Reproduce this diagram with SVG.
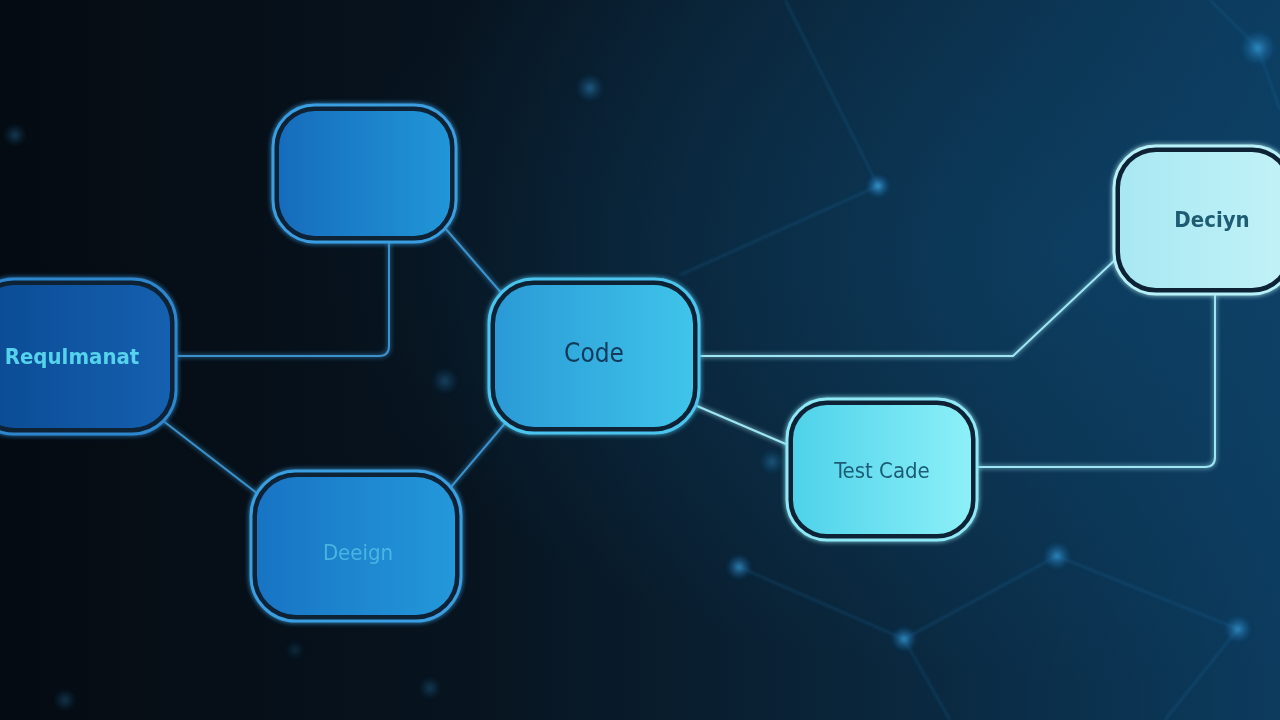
<svg xmlns="http://www.w3.org/2000/svg" width="1280" height="720" viewBox="0 0 1280 720">
<defs>
<linearGradient id="bg" x1="0" y1="0" x2="1" y2="0">
<stop offset="0" stop-color="#050b12"/>
<stop offset="0.35" stop-color="#07131e"/>
<stop offset="0.65" stop-color="#0a2438"/>
<stop offset="1" stop-color="#0c3b5e"/>
</linearGradient>
<radialGradient id="bgGlow" cx="0.85" cy="0.35" r="0.6">
<stop offset="0" stop-color="#0e4870" stop-opacity="0.55"/>
<stop offset="1" stop-color="#0e4870" stop-opacity="0"/>
</radialGradient>
<radialGradient id="dot">
<stop offset="0" stop-color="#3aa6e0" stop-opacity="0.95"/>
<stop offset="0.45" stop-color="#2a88c8" stop-opacity="0.5"/>
<stop offset="1" stop-color="#1a6aa8" stop-opacity="0"/>
</radialGradient>
<linearGradient id="gTop" x1="0" y1="0" x2="1" y2="0">
<stop offset="0" stop-color="#166cbc"/>
<stop offset="1" stop-color="#2196d8"/>
</linearGradient>
<linearGradient id="gReq" x1="0" y1="0" x2="1" y2="0">
<stop offset="0" stop-color="#0a4a92"/>
<stop offset="1" stop-color="#1560b0"/>
</linearGradient>
<linearGradient id="gCode" x1="0" y1="0" x2="1" y2="0">
<stop offset="0" stop-color="#2a9ad6"/>
<stop offset="1" stop-color="#3fc4ea"/>
</linearGradient>
<linearGradient id="gDes" x1="0" y1="0" x2="1" y2="0">
<stop offset="0" stop-color="#1874c4"/>
<stop offset="1" stop-color="#2398da"/>
</linearGradient>
<linearGradient id="gTest" x1="0" y1="0" x2="1" y2="0">
<stop offset="0" stop-color="#4ed2ea"/>
<stop offset="1" stop-color="#8cf0f8"/>
</linearGradient>
<linearGradient id="gDes2" x1="0" y1="0" x2="1" y2="0">
<stop offset="0" stop-color="#a8e8f2"/>
<stop offset="1" stop-color="#c2f2f8"/>
</linearGradient>
<filter id="glow" x="-20%" y="-20%" width="140%" height="140%">
<feGaussianBlur stdDeviation="2.5" result="b"/>
<feMerge><feMergeNode in="b"/><feMergeNode in="SourceGraphic"/></feMerge>
</filter>
<filter id="soft" x="-10%" y="-10%" width="120%" height="120%">
<feGaussianBlur stdDeviation="1.5"/>
</filter>
</defs>
<style>
.bgline{stroke:#1e6fa8;stroke-width:2;opacity:0.3;fill:none}
.ring{fill:#0a2036;stroke-width:3}
.lbl{font-family:"DejaVu Sans Condensed","DejaVu Sans",sans-serif;text-anchor:middle;font-weight:bold}
.wire{fill:none;stroke-width:2}
.wb{stroke:#3a92cc}
.wc{stroke:#9ee6f4}
</style>

<rect x="0" y="0" width="1280" height="720" fill="url(#bg)"/>
<rect x="0" y="0" width="1280" height="720" fill="url(#bgGlow)"/>

<g id="background" filter="url(#soft)">
<line class="bgline" x1="785" y1="0" x2="878" y2="186"/>
<line class="bgline" x1="878" y1="186" x2="680" y2="275"/>
<line class="bgline" x1="739" y1="567" x2="904" y2="639"/>
<line class="bgline" x1="904" y1="639" x2="1057" y2="556"/>
<line class="bgline" x1="1057" y1="556" x2="1238" y2="629"/>
<line class="bgline" x1="904" y1="639" x2="950" y2="720"/>
<line class="bgline" x1="1238" y1="629" x2="1165" y2="720"/>
<line class="bgline" x1="1258" y1="48" x2="1280" y2="110"/>
<line class="bgline" x1="1210" y1="0" x2="1258" y2="48"/>
<circle cx="15" cy="135" r="12" fill="url(#dot)" opacity="0.35"/>
<circle cx="590" cy="88" r="14" fill="url(#dot)" opacity="0.5"/>
<circle cx="878" cy="186" r="12" fill="url(#dot)"/>
<circle cx="1258" cy="48" r="18" fill="url(#dot)" opacity="0.8"/>
<circle cx="445" cy="381" r="14" fill="url(#dot)" opacity="0.35"/>
<circle cx="772" cy="462" r="13" fill="url(#dot)" opacity="0.4"/>
<circle cx="739" cy="567" r="13" fill="url(#dot)" opacity="0.8"/>
<circle cx="904" cy="639" r="13" fill="url(#dot)" opacity="0.85"/>
<circle cx="1057" cy="556" r="14" fill="url(#dot)" opacity="0.8"/>
<circle cx="1238" cy="629" r="14" fill="url(#dot)" opacity="0.8"/>
<circle cx="430" cy="688" r="12" fill="url(#dot)" opacity="0.3"/>
<circle cx="65" cy="700" r="12" fill="url(#dot)" opacity="0.3"/>
<circle cx="295" cy="650" r="10" fill="url(#dot)" opacity="0.2"/>
</g>

<g id="connectors" filter="url(#glow)">
<path class="wire wb" d="M389 240 V346 Q389 356 379 356 H176"/>
<path class="wire wb" d="M445 228 L504 296"/>
<path class="wire wb" d="M162 420 L258 494"/>
<path class="wire wb" d="M451 487 L507 421"/>
<path class="wire wc" d="M699 356 H1013 L1117 258"/>
<path class="wire wc" d="M690 403 L788 445"/>
<path class="wire wc" d="M977 467 H1205 Q1215 467 1215 457 V294"/>
</g>

<g id="node-top">
<rect class="ring" x="273" y="105" width="183" height="137" rx="42" stroke="#3a9ee0" filter="url(#glow)"/>
<rect x="279" y="111" width="171" height="125" rx="36" fill="url(#gTop)"/>
</g>

<g id="node-requirement">
<rect class="ring" x="-30" y="279" width="206" height="155" rx="44" stroke="#2f86cc" filter="url(#glow)"/>
<rect x="-24" y="285" width="194" height="143" rx="38" fill="url(#gReq)"/>
<text class="lbl" x="72" y="364" font-size="22" fill="#55d2ec">Requlmanat</text>
</g>

<g id="node-code">
<rect class="ring" x="489" y="279" width="210" height="154" rx="45" stroke="#4cc4ee" filter="url(#glow)"/>
<rect x="495" y="285" width="198" height="142" rx="39" fill="url(#gCode)"/>
<text class="lbl" x="594" y="362" font-size="26" fill="#123a5c" style="font-weight:normal">Code</text>
</g>

<g id="node-design-bottom">
<rect class="ring" x="251" y="471" width="210" height="150" rx="45" stroke="#3a9ee0" filter="url(#glow)"/>
<rect x="257" y="477" width="198" height="138" rx="39" fill="url(#gDes)"/>
<text class="lbl" x="358" y="560" font-size="22" fill="#5cc8ea" opacity="0.7" style="font-weight:normal">Deeign</text>
</g>

<g id="node-test-case">
<rect class="ring" x="787" y="399" width="190" height="141" rx="40" stroke="#8ee8f6" filter="url(#glow)"/>
<rect x="793" y="405" width="178" height="129" rx="34" fill="url(#gTest)"/>
<text class="lbl" x="882" y="478" font-size="22" fill="#1c5c74" style="font-weight:normal">Test Cade</text>
</g>

<g id="node-design-right">
<rect class="ring" x="1114" y="146" width="180" height="148" rx="42" stroke="#b8f0f8" filter="url(#glow)"/>
<rect x="1120" y="152" width="168" height="136" rx="36" fill="url(#gDes2)"/>
<text class="lbl" x="1212" y="227" font-size="22" fill="#1e5c74">Deciyn</text>
</g>
</svg>
